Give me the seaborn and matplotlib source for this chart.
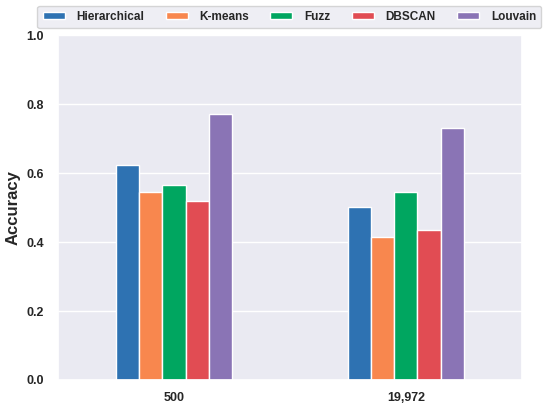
import pandas as pd
import seaborn as sns
import matplotlib.pyplot as plt

sizes = ["500", "19,972"]
methods = ["Hierarchical", "K-means", "Fuzz", "DBSCAN", "Louvain"]
accuracy = {
    "Hierarchical": [0.623, 0.501],
    "K-means": [0.545, 0.414],
    "Fuzz": [0.564, 0.544],
    "DBSCAN": [0.520, 0.435],
    "Louvain": [0.771, 0.731],
}
colors = ["#2e72b2", "#f8874e", "#00a660", "#e14c53", "#8a74b5"]

rows = []
for m in methods:
    for s, v in zip(sizes, accuracy[m]):
        rows.append({"size": s, "method": m, "acc": v})
df = pd.DataFrame(rows)

sns.set_theme(style="darkgrid")
plt.rcParams["font.family"] = ["Liberation Sans", "DejaVu Sans"]

fig = plt.figure(figsize=(5.5, 4.12), dpi=100)
ax = fig.add_axes([0.1055, 0.0777, 0.843, 0.837])
sns.barplot(data=df, x="size", y="acc", hue="method", order=sizes,
            hue_order=methods, palette=colors, width=0.5, gap=0,
            edgecolor="white", linewidth=1, saturation=1, ax=ax)

ax.set_ylim(0, 1.0)
ax.set_xlim(-0.5, 1.5)
ax.set_xlabel("")
ax.set_ylabel("Accuracy", fontsize=12, fontweight="bold", labelpad=4)
ax.tick_params(axis="y", labelsize=9, length=0, pad=10)
ax.tick_params(axis="x", labelsize=9, length=0, pad=9)
for lab in ax.get_xticklabels() + ax.get_yticklabels():
    lab.set_fontweight("bold")

ax.get_legend().remove()
handles, labels = ax.get_legend_handles_labels()
leg = fig.legend(handles, labels, loc="center", bbox_to_anchor=(0.526, 0.959),
                 ncol=5, frameon=True, fontsize=8.5, handlelength=1.87,
                 handleheight=0.6, handletextpad=1.0, columnspacing=1.8,
                 borderpad=0.45, borderaxespad=0)
leg.get_frame().set_facecolor("#eaeaf2")
leg.get_frame().set_edgecolor("#cccccc")
for t in leg.get_texts():
    t.set_fontweight("bold")

plt.savefig("out.png", dpi=100)
